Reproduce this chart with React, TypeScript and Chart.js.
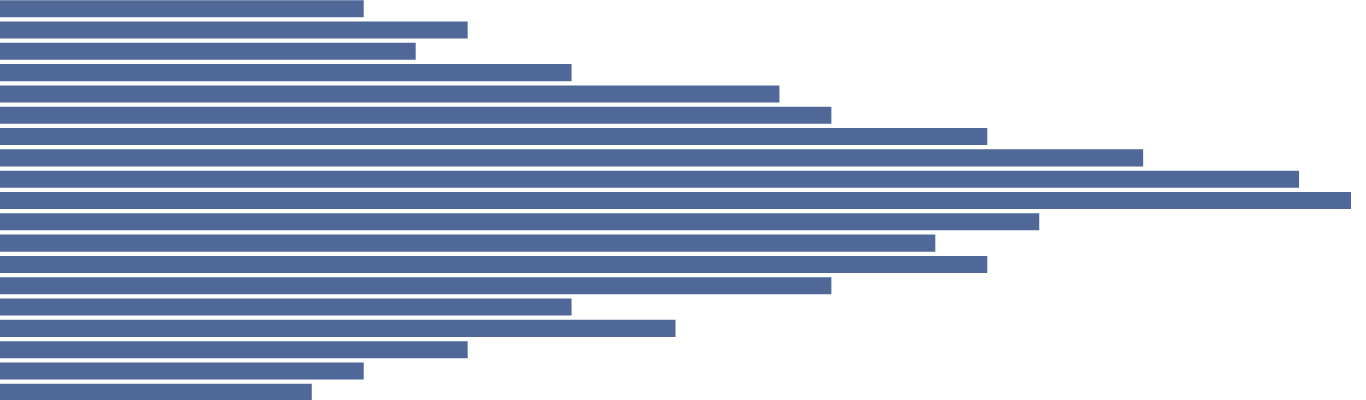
import React, { useEffect, useRef } from 'react';
import Chart from 'chart.js/auto';

const categories: string[] = [
  'A', 'B', 'C', 'D', 'E', 'F', 'G', 'H', 'I', 'J',
  'K', 'L', 'M', 'N', 'O', 'P', 'Q', 'R', 'S',
];
const values: number[] = [7, 9, 8, 11, 15, 16, 19, 22, 25, 26, 20, 18, 19, 16, 11, 13, 9, 7, 6];
const barColor = 'rgb(79, 104, 151)';

const App: React.FC = () => {
  const canvasRef = useRef<HTMLCanvasElement | null>(null);

  useEffect(() => {
    document.body.style.margin = '0';
    let chart: Chart | null = null;
    if (canvasRef.current) {
      chart = new Chart(canvasRef.current, {
        type: 'bar',
        data: {
          labels: categories,
          datasets: [{
            data: values,
            backgroundColor: barColor,
            borderWidth: 0,
            categoryPercentage: 0.8,
            barPercentage: 1,
          }],
        },
        options: {
          indexAxis: 'y',
          animation: false,
          responsive: true,
          maintainAspectRatio: false,
          layout: { padding: { right: 15 } },
          plugins: {
            legend: { display: false },
            tooltip: { enabled: false },
          },
          scales: {
            x: { display: false, min: 0, max: 26 },
            y: { display: false },
          },
        },
      });
    }
    // Cleanup on unmount
    return () => {
      if (chart) chart.destroy();
    };
  }, []);

  return (
    <div style={{ width: 1366, height: 400, overflow: 'hidden', position: 'relative' }}>
      <div style={{ position: 'absolute', top: -2, left: 0, width: 1366, height: 405 }}>
        <canvas ref={canvasRef}></canvas>
      </div>
    </div>
  );
};

export default App;
